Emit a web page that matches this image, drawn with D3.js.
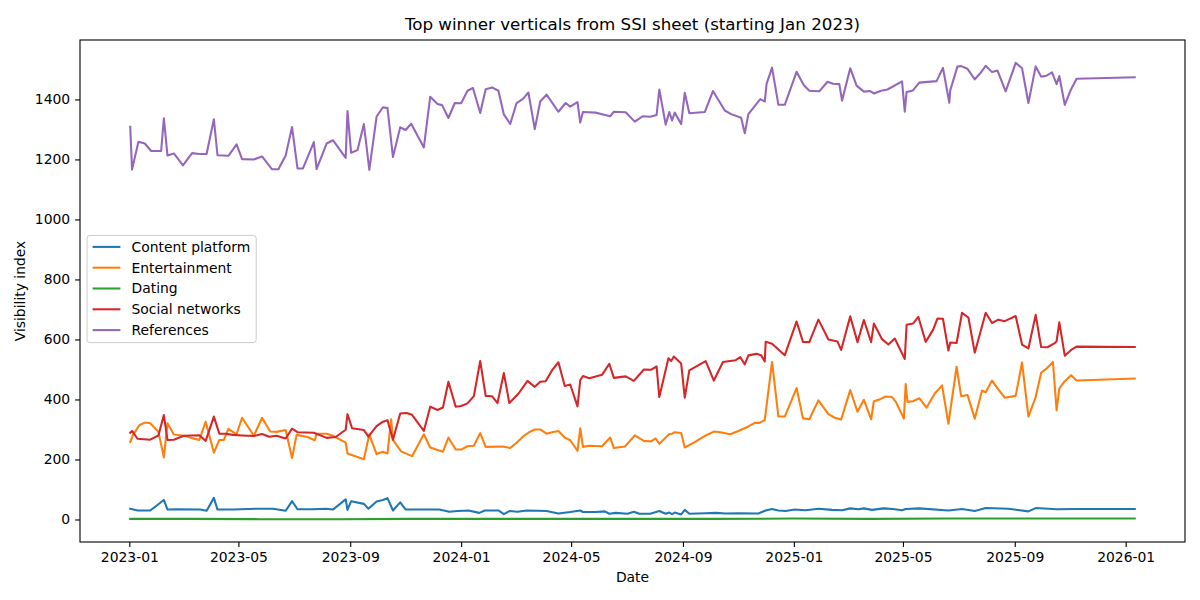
<!DOCTYPE html>
<html>

<head>
    <meta charset="utf-8" />
    <title>Top winner verticals</title>
    <script src="https://cdn.jsdelivr.net/npm/d3@7/dist/d3.min.js"></script>
</head>

<body>
    <style>
        html,
        body {
            margin: 0;
            background: #fff;
        }

        text {
            font-family: "DejaVu Sans", sans-serif;
            fill: #000;
        }

        .line {
            fill: none;
            stroke-width: 2.08px;
            stroke-linejoin: round;
            stroke-linecap: square;
        }
    </style>
    <div id="container"></div>
    <script>
        // series: [date, visibility index]
        const contentPlatform = [
            ["2023-01-02", 36], ["2023-01-10", 30], ["2023-01-24", 30], ["2023-02-08", 65], ["2023-02-12", 33],
            ["2023-02-22", 34], ["2023-03-20", 33], ["2023-03-27", 29], ["2023-04-04", 72], ["2023-04-08", 33],
            ["2023-04-25", 33], ["2023-05-21", 36], ["2023-06-08", 36], ["2023-06-22", 29], ["2023-06-29", 61],
            ["2023-07-05", 34], ["2023-07-22", 34], ["2023-08-05", 36], ["2023-08-13", 33], ["2023-08-27", 67],
            ["2023-08-29", 32], ["2023-09-02", 61], ["2023-09-16", 52], ["2023-09-21", 36], ["2023-09-30", 60],
            ["2023-10-07", 65], ["2023-10-12", 71], ["2023-10-18", 30], ["2023-10-26", 57], ["2023-11-01", 33],
            ["2023-11-12", 33], ["2023-11-27", 33], ["2023-12-08", 33], ["2023-12-19", 26], ["2023-12-28", 28],
            ["2024-01-09", 30], ["2024-01-21", 22], ["2024-01-27", 30], ["2024-02-11", 30], ["2024-02-17", 18],
            ["2024-02-23", 28], ["2024-03-03", 26], ["2024-03-13", 30], ["2024-03-25", 29], ["2024-04-04", 28],
            ["2024-04-17", 20], ["2024-04-30", 25], ["2024-05-11", 30], ["2024-05-14", 25], ["2024-05-28", 25],
            ["2024-06-07", 27], ["2024-06-12", 19], ["2024-06-19", 22], ["2024-07-02", 19], ["2024-07-09", 26],
            ["2024-07-15", 19], ["2024-07-27", 19], ["2024-08-06", 28], ["2024-08-13", 19], ["2024-08-17", 23],
            ["2024-08-20", 18], ["2024-08-23", 23], ["2024-08-30", 17], ["2024-09-03", 32], ["2024-09-08", 19],
            ["2024-09-26", 21], ["2024-10-07", 22], ["2024-10-18", 20], ["2024-11-01", 21], ["2024-11-23", 20],
            ["2024-12-01", 30], ["2024-12-08", 35], ["2024-12-15", 30], ["2024-12-23", 28], ["2025-01-02", 33],
            ["2025-01-14", 31], ["2025-01-28", 36], ["2025-02-12", 32], ["2025-02-23", 31], ["2025-03-04", 37],
            ["2025-03-13", 34], ["2025-03-19", 37], ["2025-03-28", 32], ["2025-04-10", 37], ["2025-04-20", 35],
            ["2025-04-30", 31], ["2025-05-04", 35], ["2025-05-19", 37], ["2025-06-20", 30], ["2025-07-05", 35],
            ["2025-07-19", 28], ["2025-07-31", 38], ["2025-08-25", 36], ["2025-09-16", 27], ["2025-09-24", 38],
            ["2025-10-17", 34], ["2025-11-08", 35], ["2026-01-11", 35]
        ];

        const entertainment = [
            ["2023-01-02", 259], ["2023-01-05", 281], ["2023-01-12", 314], ["2023-01-18", 323], ["2023-01-24", 321],
            ["2023-02-02", 292], ["2023-02-08", 207], ["2023-02-12", 321], ["2023-02-19", 283], ["2023-03-02", 279],
            ["2023-03-10", 272], ["2023-03-19", 265], ["2023-03-26", 326], ["2023-04-04", 223], ["2023-04-10", 265],
            ["2023-04-15", 265], ["2023-04-20", 302], ["2023-04-29", 284], ["2023-05-05", 339], ["2023-05-18", 279],
            ["2023-05-27", 339], ["2023-06-05", 293], ["2023-06-12", 292], ["2023-06-22", 298], ["2023-06-29", 205],
            ["2023-07-04", 282], ["2023-07-16", 275], ["2023-07-24", 264], ["2023-07-26", 286], ["2023-08-06", 286],
            ["2023-08-13", 279], ["2023-08-27", 256], ["2023-08-29", 220], ["2023-09-16", 201], ["2023-09-22", 283],
            ["2023-09-30", 218], ["2023-10-07", 226], ["2023-10-12", 220], ["2023-10-16", 334], ["2023-10-18", 265],
            ["2023-10-27", 227], ["2023-11-08", 211], ["2023-11-21", 284], ["2023-11-28", 240], ["2023-12-12", 226],
            ["2023-12-18", 273], ["2023-12-26", 233], ["2024-01-01", 233], ["2024-01-08", 244], ["2024-01-15", 246],
            ["2024-01-22", 288], ["2024-01-28", 242], ["2024-02-16", 243], ["2024-02-24", 238], ["2024-03-02", 256],
            ["2024-03-10", 279], ["2024-03-16", 291], ["2024-03-22", 300], ["2024-03-28", 300], ["2024-04-04", 286],
            ["2024-04-10", 291], ["2024-04-17", 295], ["2024-04-24", 273], ["2024-04-30", 264], ["2024-05-08", 229],
            ["2024-05-11", 304], ["2024-05-14", 242], ["2024-05-21", 246], ["2024-06-04", 244], ["2024-06-13", 273],
            ["2024-06-17", 238], ["2024-06-29", 243], ["2024-07-10", 280], ["2024-07-20", 262], ["2024-07-28", 260],
            ["2024-08-02", 270], ["2024-08-06", 252], ["2024-08-17", 285], ["2024-08-20", 286], ["2024-08-23", 291],
            ["2024-08-30", 288], ["2024-09-03", 240], ["2024-09-13", 256], ["2024-09-26", 280], ["2024-10-05", 293],
            ["2024-10-12", 291], ["2024-10-23", 284], ["2024-11-01", 295], ["2024-11-12", 310], ["2024-11-19", 322],
            ["2024-11-24", 322], ["2024-11-30", 331], ["2024-12-08", 525], ["2024-12-15", 343], ["2024-12-22", 343],
            ["2025-01-04", 438], ["2025-01-11", 337], ["2025-01-18", 334], ["2025-01-28", 397], ["2025-02-08", 351],
            ["2025-02-15", 339], ["2025-02-22", 333], ["2025-03-04", 431], ["2025-03-12", 359], ["2025-03-19", 399],
            ["2025-03-27", 334], ["2025-03-30", 394], ["2025-04-06", 401], ["2025-04-12", 410], ["2025-04-19", 408],
            ["2025-04-23", 393], ["2025-05-02", 336], ["2025-05-04", 451], ["2025-05-06", 392], ["2025-05-12", 394],
            ["2025-05-19", 404], ["2025-05-27", 373], ["2025-06-05", 420], ["2025-06-13", 447], ["2025-06-20", 319],
            ["2025-06-29", 509], ["2025-07-04", 411], ["2025-07-11", 415], ["2025-07-19", 336], ["2025-07-27", 430],
            ["2025-07-31", 424], ["2025-08-07", 463], ["2025-08-13", 437], ["2025-08-21", 406], ["2025-09-02", 412],
            ["2025-09-09", 523], ["2025-09-16", 343], ["2025-09-24", 408], ["2025-09-30", 489], ["2025-10-06", 503],
            ["2025-10-13", 525], ["2025-10-17", 364], ["2025-10-20", 437], ["2025-10-26", 461], ["2025-11-02", 481],
            ["2025-11-08", 463], ["2026-01-11", 470]
        ];

        const dating = [
            ["2023-01-02", 2], ["2023-03-11", 2], ["2023-05-25", 1], ["2023-08-21", 1], ["2023-11-01", 2],
            ["2024-01-14", 2], ["2024-04-09", 2], ["2024-07-06", 2], ["2024-10-02", 2], ["2024-12-30", 3],
            ["2025-03-25", 2], ["2025-06-21", 3], ["2025-09-17", 3], ["2025-11-08", 3], ["2026-01-11", 3]
        ];

        const socialNetworks = [
            ["2023-01-02", 289], ["2023-01-04", 295], ["2023-01-10", 269], ["2023-01-24", 266], ["2023-02-02", 280],
            ["2023-02-08", 348], ["2023-02-12", 265], ["2023-02-19", 266], ["2023-03-02", 279], ["2023-03-19", 281],
            ["2023-03-26", 262], ["2023-04-04", 343], ["2023-04-10", 286], ["2023-04-17", 286], ["2023-04-25", 282],
            ["2023-05-05", 280], ["2023-05-18", 278], ["2023-05-27", 285], ["2023-06-04", 276], ["2023-06-12", 279],
            ["2023-06-22", 270], ["2023-06-29", 303], ["2023-07-05", 291], ["2023-07-23", 289], ["2023-08-06", 272],
            ["2023-08-16", 275], ["2023-08-27", 299], ["2023-08-29", 351], ["2023-09-03", 304], ["2023-09-16", 298],
            ["2023-09-21", 276], ["2023-09-30", 311], ["2023-10-07", 326], ["2023-10-12", 331], ["2023-10-18", 266],
            ["2023-10-26", 353], ["2023-11-02", 355], ["2023-11-08", 349], ["2023-11-21", 295], ["2023-11-28", 376],
            ["2023-12-06", 365], ["2023-12-12", 373], ["2023-12-18", 459], ["2023-12-26", 376], ["2024-01-01", 378],
            ["2024-01-08", 387], ["2024-01-15", 411], ["2024-01-22", 528], ["2024-01-28", 412], ["2024-02-04", 411],
            ["2024-02-10", 388], ["2024-02-17", 488], ["2024-02-23", 388], ["2024-03-04", 419], ["2024-03-14", 462],
            ["2024-03-22", 442], ["2024-03-28", 459], ["2024-04-03", 461], ["2024-04-10", 497], ["2024-04-17", 524],
            ["2024-04-24", 445], ["2024-04-30", 450], ["2024-05-08", 377], ["2024-05-11", 464], ["2024-05-14", 478],
            ["2024-05-21", 471], ["2024-06-04", 482], ["2024-06-12", 519], ["2024-06-17", 472], ["2024-06-30", 477],
            ["2024-07-09", 462], ["2024-07-20", 500], ["2024-07-28", 499], ["2024-08-03", 510], ["2024-08-06", 408],
            ["2024-08-16", 537], ["2024-08-19", 528], ["2024-08-22", 543], ["2024-08-30", 520], ["2024-09-03", 406],
            ["2024-09-08", 497], ["2024-09-26", 528], ["2024-10-05", 463], ["2024-10-15", 525], ["2024-10-29", 531],
            ["2024-11-03", 541], ["2024-11-08", 517], ["2024-11-12", 547], ["2024-11-21", 552], ["2024-11-26", 547],
            ["2024-11-30", 527], ["2024-12-01", 592], ["2024-12-08", 586], ["2024-12-22", 547], ["2025-01-04", 660],
            ["2025-01-11", 592], ["2025-01-18", 591], ["2025-01-28", 666], ["2025-02-08", 600], ["2025-02-18", 593],
            ["2025-02-22", 565], ["2025-03-04", 677], ["2025-03-12", 591], ["2025-03-19", 665], ["2025-03-27", 591],
            ["2025-03-30", 653], ["2025-04-08", 601], ["2025-04-15", 583], ["2025-04-22", 603], ["2025-05-03", 535],
            ["2025-05-05", 649], ["2025-05-12", 653], ["2025-05-18", 675], ["2025-05-26", 592], ["2025-06-03", 631],
            ["2025-06-08", 670], ["2025-06-14", 669], ["2025-06-20", 563], ["2025-06-22", 590], ["2025-06-29", 588],
            ["2025-07-05", 689], ["2025-07-12", 673], ["2025-07-19", 556], ["2025-07-31", 689], ["2025-08-07", 655],
            ["2025-08-14", 666], ["2025-08-21", 661], ["2025-09-02", 678], ["2025-09-09", 583], ["2025-09-16", 570],
            ["2025-09-24", 682], ["2025-09-30", 575], ["2025-10-07", 574], ["2025-10-15", 588], ["2025-10-17", 594],
            ["2025-10-20", 657], ["2025-10-26", 546], ["2025-11-02", 565], ["2025-11-08", 576], ["2026-01-11", 575]
        ];

        const references = [
            ["2023-01-02", 1309], ["2023-01-04", 1166], ["2023-01-11", 1259], ["2023-01-18", 1253], ["2023-01-25", 1228],
            ["2023-02-05", 1228], ["2023-02-08", 1337], ["2023-02-12", 1213], ["2023-02-19", 1220], ["2023-03-01", 1180],
            ["2023-03-11", 1221], ["2023-03-19", 1218], ["2023-03-27", 1218], ["2023-04-04", 1334], ["2023-04-08", 1214],
            ["2023-04-20", 1212], ["2023-04-29", 1250], ["2023-05-05", 1201], ["2023-05-18", 1200], ["2023-05-27", 1210],
            ["2023-06-07", 1167], ["2023-06-14", 1167], ["2023-06-22", 1213], ["2023-06-29", 1308], ["2023-07-05", 1170],
            ["2023-07-11", 1170], ["2023-07-23", 1258], ["2023-07-26", 1168], ["2023-08-06", 1253], ["2023-08-13", 1264],
            ["2023-08-27", 1205], ["2023-08-29", 1361], ["2023-09-02", 1222], ["2023-09-09", 1231], ["2023-09-16", 1318],
            ["2023-09-22", 1165], ["2023-09-30", 1343], ["2023-10-07", 1374], ["2023-10-12", 1371], ["2023-10-18", 1208],
            ["2023-10-26", 1307], ["2023-11-01", 1298], ["2023-11-07", 1319], ["2023-11-21", 1240], ["2023-11-28", 1409],
            ["2023-12-06", 1385], ["2023-12-11", 1381], ["2023-12-18", 1338], ["2023-12-25", 1388], ["2024-01-01", 1387],
            ["2024-01-08", 1429], ["2024-01-14", 1438], ["2024-01-22", 1355], ["2024-01-28", 1434], ["2024-02-04", 1440],
            ["2024-02-11", 1429], ["2024-02-17", 1350], ["2024-02-24", 1318], ["2024-03-02", 1388], ["2024-03-09", 1402],
            ["2024-03-15", 1423], ["2024-03-22", 1301], ["2024-03-28", 1393], ["2024-04-04", 1416], ["2024-04-17", 1359],
            ["2024-04-25", 1388], ["2024-04-30", 1376], ["2024-05-08", 1391], ["2024-05-11", 1323], ["2024-05-14", 1358],
            ["2024-05-28", 1356], ["2024-06-05", 1350], ["2024-06-13", 1344], ["2024-06-17", 1359], ["2024-06-30", 1357],
            ["2024-07-10", 1326], ["2024-07-19", 1344], ["2024-07-27", 1342], ["2024-08-03", 1348], ["2024-08-06", 1433],
            ["2024-08-13", 1316], ["2024-08-17", 1358], ["2024-08-20", 1330], ["2024-08-23", 1356], ["2024-08-30", 1318],
            ["2024-09-03", 1422], ["2024-09-08", 1354], ["2024-09-25", 1358], ["2024-10-04", 1428], ["2024-10-17", 1363],
            ["2024-10-24", 1351], ["2024-11-04", 1339], ["2024-11-08", 1287], ["2024-11-12", 1351], ["2024-11-25", 1401],
            ["2024-11-30", 1393], ["2024-12-02", 1452], ["2024-12-08", 1506], ["2024-12-15", 1382], ["2024-12-22", 1382],
            ["2025-01-04", 1492], ["2025-01-12", 1447], ["2025-01-18", 1429], ["2025-01-29", 1427], ["2025-02-07", 1459],
            ["2025-02-13", 1452], ["2025-02-20", 1451], ["2025-02-23", 1396], ["2025-03-04", 1504], ["2025-03-11", 1446],
            ["2025-03-19", 1426], ["2025-03-26", 1428], ["2025-03-30", 1420], ["2025-04-07", 1429], ["2025-04-14", 1433],
            ["2025-04-30", 1460], ["2025-05-03", 1359], ["2025-05-05", 1425], ["2025-05-12", 1430], ["2025-05-19", 1456],
            ["2025-06-07", 1461], ["2025-06-14", 1505], ["2025-06-21", 1389], ["2025-06-22", 1430], ["2025-06-30", 1510],
            ["2025-07-04", 1511], ["2025-07-11", 1502], ["2025-07-19", 1467], ["2025-07-25", 1487], ["2025-07-31", 1512],
            ["2025-08-07", 1491], ["2025-08-13", 1496], ["2025-08-22", 1427], ["2025-09-02", 1522], ["2025-09-09", 1504],
            ["2025-09-16", 1388], ["2025-09-24", 1510], ["2025-09-30", 1476], ["2025-10-06", 1479], ["2025-10-12", 1490],
            ["2025-10-17", 1451], ["2025-10-20", 1478], ["2025-10-26", 1382], ["2025-11-02", 1434], ["2025-11-08", 1469],
            ["2026-01-11", 1474]
        ];

        const seriesNames = ["Content platform", "Entertainment", "Dating", "Social networks", "References"];
        const seriesData = [contentPlatform, entertainment, dating, socialNetworks, references];
        const colors = ["#1f77b4", "#ff7f0e", "#2ca02c", "#d62728", "#9467bd"];
        const xTicks = ["2023-01-01", "2023-05-01", "2023-09-01", "2024-01-01", "2024-05-01", "2024-09-01",
            "2025-01-01", "2025-05-01", "2025-09-01", "2026-01-01"];
        const yTicks = [0, 200, 400, 600, 800, 1000, 1200, 1400];

        const width = 1200, height = 600;
        const margin = { top: 40, right: 15, bottom: 58, left: 80 };
        const fs = 13.9; // 10pt

        const parse = d3.utcParse("%Y-%m-%d");
        const series = seriesData.map(function(s, i) {
            return {
                name: seriesNames[i],
                color: colors[i],
                values: s.map(function(d) { return { date: parse(d[0]), value: d[1] }; })
            };
        });
        const all = series.flatMap(function(s) { return s.values; });

        // matplotlib style 5% padding
        function padded(ext) {
            const p = (ext[1] - ext[0]) * 0.05;
            return [ext[0] - p, ext[1] + p];
        }
        const xExt = d3.extent(all, function(d) { return +d.date; });
        const yExt = d3.extent(all, function(d) { return d.value; });

        const x = d3.scaleUtc()
            .domain(padded(xExt).map(function(t) { return new Date(t); }))
            .range([margin.left, width - margin.right]);
        const y = d3.scaleLinear()
            .domain(padded(yExt))
            .range([height - margin.bottom, margin.top]);

        const svg = d3.select("#container").append("svg")
            .attr("width", width)
            .attr("height", height);

        const line = d3.line()
            .x(function(d) { return x(d.date); })
            .y(function(d) { return y(d.value); });

        svg.selectAll(".line")
            .data(series)
            .enter()
            .append("path")
            .attr("class", "line")
            .attr("stroke", function(d) { return d.color; })
            .attr("d", function(d) { return line(d.values); });

        // axes
        const xAxis = d3.axisBottom(x)
            .tickValues(xTicks.map(parse))
            .tickFormat(d3.utcFormat("%Y-%m"))
            .tickSizeInner(4.9)
            .tickSizeOuter(0)
            .tickPadding(4.9);
        const yAxis = d3.axisLeft(y)
            .tickValues(yTicks)
            .tickFormat(d3.format("d"))
            .tickSizeInner(4.9)
            .tickSizeOuter(0)
            .tickPadding(4.9);

        const gx = svg.append("g")
            .attr("transform", `translate(0,${height - margin.bottom})`)
            .call(xAxis);
        const gy = svg.append("g")
            .attr("transform", `translate(${margin.left},0)`)
            .call(yAxis);
        [gx, gy].forEach(function(g) {
            g.select(".domain").remove();
            g.selectAll("line").attr("stroke", "#000").attr("stroke-width", 1.1);
            g.selectAll("text").attr("font-size", fs).attr("font-family", "DejaVu Sans").attr("fill", "#000");
        });

        // frame
        svg.append("rect")
            .attr("x", margin.left)
            .attr("y", margin.top)
            .attr("width", width - margin.left - margin.right)
            .attr("height", height - margin.top - margin.bottom)
            .attr("fill", "none")
            .attr("stroke", "#000")
            .attr("stroke-width", 1.1);

        svg.append("text")
            .attr("x", (margin.left + width - margin.right) / 2)
            .attr("y", margin.top - 10)
            .attr("text-anchor", "middle")
            .attr("font-size", 16.7)
            .text("Top winner verticals from SSI sheet (starting Jan 2023)");

        svg.append("text")
            .attr("x", (margin.left + width - margin.right) / 2)
            .attr("y", height - 18)
            .attr("text-anchor", "middle")
            .attr("font-size", fs)
            .text("Date");

        svg.append("text")
            .attr("transform", `translate(20,${(margin.top + height - margin.bottom) / 2}) rotate(-90)`)
            .attr("text-anchor", "middle")
            .attr("dy", "0.35em")
            .attr("font-size", fs)
            .text("Visibility index");

        // legend, center left
        const rowH = 20.8;
        const legend = svg.append("g");
        const box = legend.append("rect")
            .attr("fill", "#fff")
            .attr("fill-opacity", 0.8)
            .attr("stroke", "#cccccc")
            .attr("stroke-width", 1)
            .attr("rx", 3);
        const lx = margin.left + 7;
        const ly0 = (margin.top + height - margin.bottom) / 2 - rowH * 2 - 2.5;
        const items = legend.selectAll(".item")
            .data(series)
            .enter()
            .append("g")
            .attr("class", "item")
            .attr("transform", function(d, i) { return `translate(${lx},${ly0 + i * rowH})`; });
        items.append("line")
            .attr("x1", 5.6)
            .attr("x2", 33.4)
            .attr("stroke", function(d) { return d.color; })
            .attr("stroke-width", 2.08);
        const labels = items.append("text")
            .attr("x", 44.5)
            .attr("dy", "0.35em")
            .attr("font-size", fs)
            .text(function(d) { return d.name; });
        let maxW = 0;
        labels.each(function() { maxW = Math.max(maxW, this.getComputedTextLength()); });
        box.attr("x", lx)
            .attr("y", ly0 - 11.5)
            .attr("width", 44.5 + maxW + 6)
            .attr("height", rowH * 4 + 24);
    </script>
</body>

</html>
